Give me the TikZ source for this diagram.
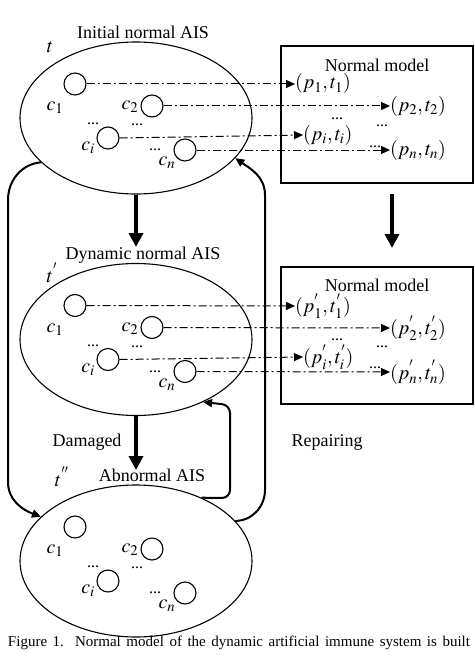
\documentclass[tikz,border=0pt]{standalone}
\usepackage{mathptmx}
\usepackage{fontspec}
\setmainfont{Liberation Serif}
\usetikzlibrary{shapes.geometric,arrows.meta}
\begin{document}
\begin{tikzpicture}[x=1pt,y=1pt,
  ell/.style={ellipse, draw, line width=1.1pt, minimum width=232pt, minimum height=152pt, inner sep=0},
  cell/.style={circle, draw, line width=1.1pt, minimum size=22pt, inner sep=0},
  lab/.style={font=\fontsize{20}{22}\selectfont, inner sep=0},
  ttl/.style={font=\fontsize{18}{20}\selectfont, inner sep=0},
  dts/.style={font=\fontsize{16}{18}\selectfont, inner sep=0},
  pair/.style={font=\fontsize{20}{22}\selectfont, inner sep=0, anchor=west},
  dd/.style={line width=1pt, dash pattern=on 8pt off 3pt on 2pt off 3pt, -{Triangle[length=9pt 0, width=8pt 0]}},
  bigarr/.style={line width=4.5pt, -{Triangle[length=14pt 0, width=14pt 0]}},
  looparr/.style={line width=2pt, -{Triangle[length=9pt 0, width=8pt 0]}},
  mbox/.style={draw, line width=1.3pt, minimum width=192pt, minimum height=137pt, inner sep=0}]
\useasboundingbox (0,0) rectangle (474,-666);

% ellipses with cells
\foreach \g/\dy in {1/0, 2/221.5, 3/443} {
  \node[ell] (E\g) at (136,-118-\dy) {};
  \node[cell] (c\g-1) at (75,-84-\dy) {};
  \node[cell] (c\g-2) at (152,-106-\dy) {};
  \node[cell] (c\g-i) at (108,-138-\dy) {};
  \node[cell] (c\g-n) at (185,-150-\dy) {};
  \node[lab] (l\g-1) at (55,-108-\dy) {$c_{1}$};
  \node[lab] (l\g-2) at (130,-107-\dy) {$c_{2}$};
  \node[lab] (l\g-i) at (88,-148-\dy) {$c_{i}$};
  \node[lab] (l\g-n) at (167,-163-\dy) {$c_{n}$};
  \node[dts] (d\g-a) at (93,-124-\dy) {...};
  \node[dts] (d\g-b) at (137,-125-\dy) {...};
  \node[dts] (d\g-c) at (155,-150-\dy) {...};
}

% titles
\node[ttl] (T1) at (143,-32) {Initial normal AIS};
\node[ttl] (T2) at (143,-255) {Dynamic normal AIS};
\node[ttl] (T3) at (152,-475) {Abnormal AIS};
\node[lab] (t1) at (50,-47) {$t$};
\node[lab] (t2) at (52,-273) {$t^{'}$};
\node[lab] (t3) at (62,-477) {$t^{''}$};

% normal model boxes
\node[mbox] (B1) at (377,-114.5) {};
\node[mbox] (B2) at (377,-335.5) {};
\node[ttl] (N1) at (377,-65) {Normal model};
\node[ttl] (N2) at (377,-285) {Normal model};

\node[pair] (P1-1) at (295,-84) {$(p_{1},t_{1})$};
\node[pair] (P1-2) at (390,-106) {$(p_{2},t_{2})$};
\node[pair] (P1-i) at (303,-135) {$(p_{i},t_{i})$};
\node[pair] (P1-n) at (390,-150) {$(p_{n},t_{n})$};
\node[pair] (P2-1) at (295,-306) {$(p^{'}_{1},t^{'}_{1})$};
\node[pair] (P2-2) at (390,-328) {$(p^{'}_{2},t^{'}_{2})$};
\node[pair] (P2-i) at (303,-357) {$(p^{'}_{i},t^{'}_{i})$};
\node[pair] (P2-n) at (390,-372) {$(p^{'}_{n},t^{'}_{n})$};
\node[dts] (m1-a) at (337,-119) {...};
\node[dts] (m1-b) at (382,-126) {...};
\node[dts] (m1-c) at (375,-147) {...};
\node[dts] (m2-a) at (337,-340) {...};
\node[dts] (m2-b) at (382,-347) {...};
\node[dts] (m2-c) at (375,-368) {...};

% dash-dot connectors
\foreach \g in {1,2} {
  \foreach \k in {1,2,i,n} {
    \draw[dd] (c\g-\k.east) -- (P\g-\k.west);
  }
}

% thick arrows
\coordinate (A1) at (136,-247);
\draw[bigarr] (E1.south) -- (A1);
\coordinate (A2s) at (392,-194);
\coordinate (A2) at (392,-248);
\draw[bigarr] (A2s) -- (A2);
\coordinate (A3) at (136,-470);
\draw[bigarr] (E2.south) -- (A3);

% loops
\draw[looparr] (E1.205) to[out=185,in=90] (8,-200) -- (8,-482) to[out=-90,in=160] (E3.155);
\draw[looparr] (E3.22) to[out=0,in=-90] (265,-490) -- (265,-195) to[out=90,in=-35] (E1.338);
\draw[looparr, rounded corners=8pt] (E3.44) -- (230,-498) -- (230,-405) -- (E2.317);

\node[ttl] (dmg) at (87,-442) {Damaged};
\node[ttl] (rep) at (327,-442) {Repairing};

% caption
\node[font=\fontsize{15}{17}\selectfont, inner sep=0] (cap) at (239,-643)
  {\makebox[462pt][s]{Figure 1.\ \ Normal model of the dynamic artificial immune system is built}};
\end{tikzpicture}
\end{document}
